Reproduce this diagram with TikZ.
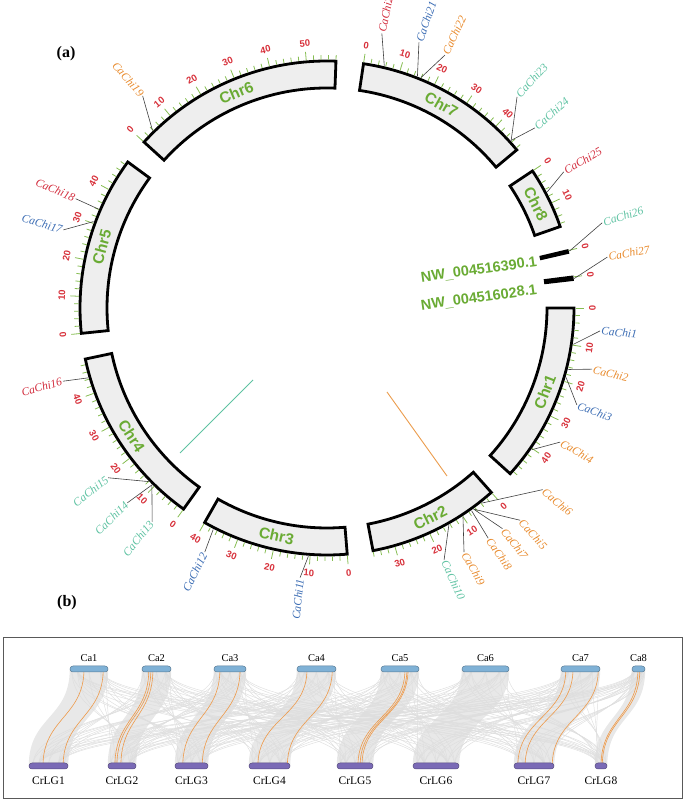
\documentclass[tikz,border=0pt]{standalone}
\usepackage{fontspec}
\setmainfont{Liberation Serif}
\setsansfont{Liberation Sans}
\usetikzlibrary{calc,backgrounds}

\definecolor{chrgreen}{HTML}{6AAB34}
\definecolor{tickgreen}{HTML}{86BD52}
\definecolor{tickred}{HTML}{D7303A}
\definecolor{genered}{HTML}{D22B3C}
\definecolor{geneblue}{HTML}{3C6DB4}
\definecolor{geneorange}{HTML}{E88A2C}
\definecolor{geneteal}{HTML}{5EC2A2}
\definecolor{boxgray}{HTML}{EEEEEE}
\definecolor{cablue}{HTML}{7FB1D6}
\definecolor{lgpurple}{HTML}{7A6AB6}
\definecolor{synorange}{HTML}{EE9A4A}

\tikzset{
  chrbox/.style={draw=black, line width=2.8pt, fill=boxgray, line join=miter},
  tickline/.style={draw=tickgreen, line width=0.8pt},
  ticklbl/.style={font=\sffamily\bfseries\fontsize{9.5}{10}\selectfont, text=tickred, inner sep=0pt},
  chrlbl/.style={font=\sffamily\bfseries\fontsize{15.5}{16}\selectfont, text=chrgreen, inner sep=0pt},
  nwlbl/.style={font=\sffamily\bfseries\fontsize{14.5}{15}\selectfont, text=chrgreen, inner sep=0pt},
  genelink/.style={draw=black!75, line width=0.6pt},
  genelbl/.style={font=\itshape\fontsize{11.5}{12}\selectfont, inner sep=1pt},
  panellbl/.style={font=\bfseries\fontsize{16}{18}\selectfont},
  cabar/.style={fill=cablue, draw=cablue!70!black, line width=0.5pt, rounded corners=3pt, minimum height=6pt, inner sep=0pt},
  lgbar/.style={fill=lgpurple, draw=lgpurple!70!black, line width=0.5pt, rounded corners=3pt, minimum height=6pt, inner sep=0pt},
  calbl/.style={font=\fontsize{10.5}{11}\selectfont, label distance=1pt},
  lglbl/.style={font=\fontsize{11.5}{12}\selectfont, label distance=4pt},
  ribbon/.style={fill=black!9},
  mesh/.style={draw=black!13, line width=0.45pt},
  synline/.style={draw=synorange, line width=0.6pt}
}

\newcommand{\degper}{0.86}
% chromosome box with its ruler: start angle, length
\newcommand{\chrom}[2]{%
  \pgfmathsetmacro\chrEnd{#1-#2*\degper}
  \draw[chrbox] (#1:220) arc[start angle=#1, end angle=\chrEnd, radius=220]
    -- (\chrEnd:247) arc[start angle=\chrEnd, end angle=#1, radius=247] -- cycle;
  \pgfmathtruncatemacro\ktop{floor(#2/2)}
  \foreach \j in {0,...,\ktop}{
    \pgfmathsetmacro\ta{#1-2*\j*\degper}
    \pgfmathtruncatemacro\isMajor{mod(\j,5)==0}
    \ifnum\isMajor=1
      \draw[tickline] (\ta:248.5) -- (\ta:257);
      \pgfmathtruncatemacro\lab{2*\j}
      \pgfmathsetmacro\trot{sin(\ta)<0 ? \ta+90 : \ta-90}
      \node[ticklbl, rotate=\trot] at (\ta:265.5) {\lab};
    \else
      \draw[tickline] (\ta:248.5) -- (\ta:253);
    \fi
  }
}
\newcommand{\synpair}[4]{%
  \draw[synline] ($(ca#1.west)!#2!(ca#1.east)$) .. controls +(0,-48) and +(0,48) .. ($(lg#3.west)!#4!(lg#3.east)$);}

\begin{document}
\begin{tikzpicture}[x=1pt, y=1pt]
\useasboundingbox (0,0) rectangle (685,800);

\node[panellbl] (pa) at (66,746) {(a)};
\node[panellbl] (pb) at (67,197) {(b)};

% links inside the circle
\draw[draw=geneteal, line width=0.9pt] (253,420) -- (180,347);
\draw[draw=geneorange!85, line width=0.9pt] (387,408) -- (447,324);

\begin{scope}[shift={(327,492)}]
  \foreach \s/\len/\nm in {0/49/Chr1, -48.3/36/Chr2, -85.3/40/Chr3, -125.5/49.5/Chr4,
      -174.1/49/Chr5, 137.8/58/Chr6, 81.5/48.5/Chr7, 33.7/16.8/Chr8}{
    \chrom{\s}{\len}
    \pgfmathsetmacro\chrMid{\s-\len*\degper/2}
    \pgfmathsetmacro\crot{sin(\chrMid)<0 ? \chrMid+90 : \chrMid-90}
    \node[chrlbl, rotate=\crot] (\nm) at (\chrMid:233.5) {\nm};
  }
  \chrom{13.4}{0.5}
  \chrom{7.2}{0.7}
  \node[nwlbl, anchor=east, rotate=8] (nw1) at (210,46) {NW\_004516390.1};
  \node[nwlbl, anchor=east, rotate=8] (nw2) at (210,18) {NW\_004516028.1};

  \foreach \tg/\tl/\rr/\gn/\gc in {
      -8.4/-4.8/274/CaChi1/geneblue, -14.3/-13/272/CaChi2/geneorange,
      -16.2/-21.2/268/CaChi3/geneblue, -34.7/-29.9/269/CaChi4/geneorange,
      -53.9/-47.7/287/CaChi5/geneorange, -51.6/-40.1/282/CaChi6/geneorange,
      -53.9/-51.5/282/CaChi7/geneorange, -54.5/-55/281/CaChi8/geneorange,
      -56.9/-60.7/280/CaChi9/geneorange, -60.7/-65.1/278/CaChi10/geneteal,
      -94.3/-95.7/271/CaChi11/geneblue, -117.2/-116.6/273/CaChi12/geneblue,
      -134.7/-129.3/276/CaChi13/geneteal, -134.7/-135.7/279/CaChi14/geneteal,
      -135.8/-142.2/277/CaChi15/geneteal, -163.7/-164.5/274/CaChi16/genered,
      159.7/163.5/275/CaChi17/geneblue, 156.6/156.5/274/CaChi18/genered,
      134.5/131/281/CaChi19/geneorange, 76.7/78.7/280/CaChi20/genered,
      68.7/70.9/281/CaChi21/geneblue, 67.8/65/279/CaChi22/geneorange,
      42.3/48/284/CaChi23/geneteal, 42.3/40.9/275/CaChi24/geneteal,
      27.8/29.9/273/CaChi25/genered, 13.2/17.2/288/CaChi26/geneteal,
      6.8/10.3/285/CaChi27/geneorange}{
    \pgfmathtruncatemacro\side{cos(\tl)>=0 ? 1 : 0}
    \ifnum\side=1
      \def\anc{west}\pgfmathsetmacro\grot{\tl}
    \else
      \def\anc{east}\pgfmathsetmacro\grot{\tl+180}
    \fi
    \draw[genelink] (\tg:249) -- (\tl:\rr)
      node[genelbl, text=\gc, anchor=\anc, rotate=\grot] (\gn) {\gn};
  }
\end{scope}

% panel (b)
\draw[draw=black!65, line width=0.8pt] (3,2) rectangle (682,163);
\foreach \n/\x/\w in {1/89/38, 2/156.5/29, 3/230/32, 4/316.5/39, 5/400/38, 6/485.5/47, 7/580.5/39, 8/638.5/13}
  \node[cabar, minimum width=\w pt, label={[calbl]above:Ca\n}] (ca\n) at (\x,131) {};
\foreach \n/\x/\w in {1/48.5/39, 2/122/28, 3/191.5/33, 4/269.5/41, 5/355/36, 6/436/46, 7/534/40, 8/601/12}
  \node[lgbar, minimum width=\w pt, label={[lglbl]below:CrLG\n}] (lg\n) at (\x,34) {};

\begin{scope}[on background layer]
  \foreach \i in {1,...,8}
    \fill[ribbon] (ca\i.west) .. controls +(0,-50) and +(0,50) .. (lg\i.west)
      -- (lg\i.east) .. controls +(0,50) and +(0,-50) .. (ca\i.east) -- cycle;
  \foreach \i in {1,...,8}{
    \foreach \j in {1,...,8}{
      \pgfmathtruncatemacro\dd{abs(\i-\j)}
      \ifnum\dd>0
        \foreach \f/\g in {0.2/0.75, 0.8/0.25}
          \draw[mesh] ($(ca\i.west)!\f!(ca\i.east)$) .. controls +(0,-48) and +(0,48) .. ($(lg\j.west)!\g!(lg\j.east)$);
        \ifnum\dd<3
          \foreach \f/\g in {0.05/0.9, 0.5/0.5, 0.95/0.1}
            \draw[mesh] ($(ca\i.west)!\f!(ca\i.east)$) .. controls +(0,-48) and +(0,48) .. ($(lg\j.west)!\g!(lg\j.east)$);
        \fi
      \fi
    }
  }
  \synpair{1}{0.37}{1}{0.36}
  \synpair{1}{0.87}{1}{0.87}
  \synpair{2}{0.24}{2}{0.25}
  \synpair{2}{0.31}{2}{0.32}
  \synpair{2}{0.38}{2}{0.46}
  \synpair{3}{0.19}{3}{0.24}
  \synpair{3}{0.81}{3}{0.82}
  \synpair{4}{0.26}{4}{0.22}
  \synpair{4}{0.9}{4}{0.93}
  \synpair{5}{0.63}{5}{0.58}
  \synpair{5}{0.68}{5}{0.64}
  \synpair{5}{0.71}{5}{0.69}
  \synpair{7}{0.13}{7}{0.1}
  \synpair{7}{0.31}{7}{0.28}
  \synpair{7}{0.95}{7}{0.95}
  \synpair{8}{0.46}{8}{0.5}
  \synpair{8}{0.6}{8}{0.6}
\end{scope}
\end{tikzpicture}
\end{document}
